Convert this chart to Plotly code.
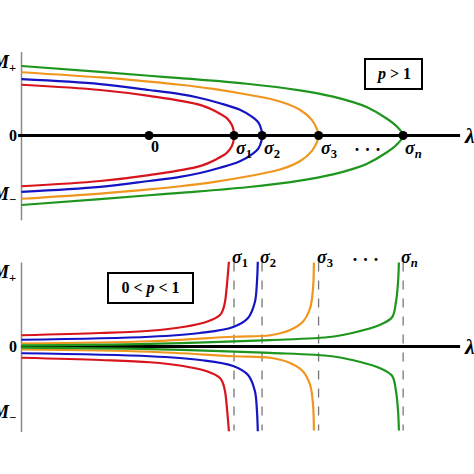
import plotly.graph_objects as go

# bifurcation points on the lambda axis
SIGMA = [2.0, 2.66, 3.99, 5.98]
SIGMA_LABELS = ["σ<sub>1</sub>", "σ<sub>2</sub>", "σ<sub>3</sub>", "σ<sub><i>n</i></sub>"]
COLORS = ["#d8141c", "#1414c4", "#f0961e", "#1e961e"]

# p > 1 : upper branch of each curve (lambda, M), lower branch is its mirror
TOP_LAM = [
    [-3.0, -1.15, 0.0, 1.2, 1.59, 1.83, 1.95, 1.995, 2.0],
    [-3.0, -1.15, 0.0, 0.73, 1.2, 1.67, 2.14, 2.42, 2.58, 2.645, 2.66],
    [-3.0, -1.15, 0.0, 0.73, 1.51, 2.3, 3.08, 3.55, 3.83, 3.96, 3.99],
    [-3.0, -1.15, 0.0, 0.73, 2.3, 3.55, 4.33, 4.8, 5.12, 5.59, 5.83, 5.98],
]
TOP_M = [
    [0.73, 0.655, 0.57, 0.44, 0.34, 0.25, 0.15, 0.06, 0.0],
    [0.81, 0.74, 0.655, 0.595, 0.54, 0.465, 0.37, 0.27, 0.18, 0.08, 0.0],
    [0.91, 0.835, 0.775, 0.73, 0.67, 0.59, 0.49, 0.37, 0.225, 0.08, 0.0],
    [1.0, 0.915, 0.86, 0.825, 0.745, 0.65, 0.56, 0.48, 0.41, 0.245, 0.13, 0.0],
]

# 0 < p < 1 : upper branch of each curve, lower branch is its mirror
BOT_LAM = [
    [-3.0, -1.15, 0.02, 0.8, 1.36, 1.67, 1.74, 1.79, 1.84, 1.88],
    [-3.0, 0.02, 1.2, 1.98, 2.33, 2.49, 2.54, 2.56],
    [-3.0, 0.02, 1.98, 2.85, 3.32, 3.62, 3.79, 3.86, 3.88],
    [-3.0, 0.02, 2.85, 4.31, 4.78, 5.44, 5.72, 5.81, 5.86, 5.88],
]
BOT_M = [
    [0.15, 0.18, 0.21, 0.26, 0.33, 0.42, 0.49, 0.60, 0.86, 1.13],
    [0.09, 0.13, 0.18, 0.26, 0.38, 0.59, 0.86, 1.13],
    [0.04, 0.07, 0.13, 0.15, 0.22, 0.33, 0.51, 0.78, 1.12],
    [0.015, 0.035, 0.085, 0.13, 0.18, 0.29, 0.39, 0.59, 0.86, 1.12],
]

LAM_MIN, LAM_MAX = -3.0, 7.32
FONT = "Liberation Serif"

fig = go.Figure()

# ---------- top panel (p > 1) ----------
fig.add_trace(go.Scatter(x=[LAM_MIN, LAM_MIN], y=[1.2, -1.22], mode="lines",
                         line=dict(color="#8a8a8a", width=1.5), xaxis="x", yaxis="y"))
fig.add_trace(go.Scatter(x=[LAM_MIN - 0.08, LAM_MAX], y=[0, 0], mode="lines",
                         line=dict(color="black", width=3), xaxis="x", yaxis="y"))
for lam, m, c in zip(TOP_LAM, TOP_M, COLORS):
    xs = lam + lam[-2::-1]
    ys = m + [-v for v in m[-2::-1]]
    fig.add_trace(go.Scatter(x=xs, y=ys, mode="lines", line=dict(color=c, width=2.2, shape="spline"),
                             xaxis="x", yaxis="y"))
fig.add_trace(go.Scatter(x=[0] + SIGMA, y=[0] * 5, mode="markers",
                         marker=dict(color="black", size=9), xaxis="x", yaxis="y"))

# ---------- bottom panel (0 < p < 1) ----------
fig.add_trace(go.Scatter(x=[LAM_MIN, LAM_MIN], y=[1.12, -1.14], mode="lines",
                         line=dict(color="#8a8a8a", width=1.5), xaxis="x2", yaxis="y2"))
fig.add_trace(go.Scatter(x=[LAM_MIN, LAM_MAX], y=[0, 0], mode="lines",
                         line=dict(color="black", width=3), xaxis="x2", yaxis="y2"))
for s in SIGMA:
    fig.add_trace(go.Scatter(x=[s, s], y=[1.12, -1.12], mode="lines",
                             line=dict(color="#777777", width=1.3, dash="dash"), xaxis="x2", yaxis="y2"))
for lam, m, c in zip(BOT_LAM, BOT_M, COLORS):
    xs = lam + [None] + lam
    ys = m + [None] + [-v for v in m]
    fig.add_trace(go.Scatter(x=xs, y=ys, mode="lines", line=dict(color=c, width=2.2, shape="spline"),
                             connectgaps=False, xaxis="x2", yaxis="y2"))

ann = []
lab = dict(family=FONT, size=18, color="black")
# sigma labels
for s, t in zip(SIGMA, SIGMA_LABELS):
    txt = "<b><i>" + t.replace("<sub>", "</i><sub>", 1) + "</b>"
    ann.append(dict(x=s, y=0, xref="x", yref="y", text=txt,
                    showarrow=False, xanchor="left", yanchor="top", xshift=0, yshift=0, font=lab))
    ann.append(dict(x=s, y=1.13, xref="x2", yref="y2", text=txt,
                    showarrow=False, xanchor="center", yanchor="middle", xshift=6, yshift=3, font=lab))
ann.append(dict(x=0, y=0, xref="x", yref="y", text="<b>0</b>", showarrow=False,
                xanchor="left", yanchor="top", xshift=0, yshift=0,
                font=dict(family=FONT, size=16, color="black")))
ann.append(dict(x=5.15, y=0, xref="x", yref="y", text="<b>· · ·</b>", showarrow=False,
                xanchor="center", yanchor="top", yshift=-2, font=lab))
ann.append(dict(x=5.1, y=1.13, xref="x2", yref="y2", text="<b>· · ·</b>", showarrow=False,
                xanchor="center", yanchor="middle", yshift=2, font=lab))
for ax, ay in (("x", "y"), ("x2", "y2")):
    ann.append(dict(x=LAM_MAX, y=0, xref=ax, yref=ay, text="<b><i>λ</i></b>", showarrow=False,
                    xanchor="left", yanchor="middle", xshift=2, font=dict(family=FONT, size=22, color="black")))
    ann.append(dict(x=LAM_MIN, y=0, xref=ax, yref=ay, text="<b>0</b>", showarrow=False,
                    xanchor="right", yanchor="middle", xshift=-3, font=dict(family=FONT, size=16, color="black")))

# M+ / M- labels (clipped at the left edge as in the source)
for py, t in ((63, "<b><i>M</i><sub>+</sub></b>"), (195, "<b><i>M</i><sub>−</sub></b>"),
              (273, "<b><i>M</i><sub>+</sub></b>"), (413, "<b><i>M</i><sub>−</sub></b>")):
    ann.append(dict(x=18 / 474, y=1 - py / 474, xref="paper", yref="paper", text=t, showarrow=False,
                    xanchor="right", yanchor="middle", font=dict(family=FONT, size=18, color="black")))

# regime boxes
box_font = dict(family=FONT, size=16, color="black")
ann.append(dict(x=393 / 474, y=1 - 74 / 474, xref="paper", yref="paper", text="<b><i>p</i> > 1</b>",
                showarrow=False, xanchor="center", yanchor="middle", width=47, height=20,
                bordercolor="black", borderwidth=2, borderpad=4, font=box_font))
ann.append(dict(x=150 / 474, y=1 - 288 / 474, xref="paper", yref="paper", text="<b>0 < <i>p</i> < 1</b>",
                showarrow=False, xanchor="center", yanchor="middle", width=75, height=20,
                bordercolor="black", borderwidth=2, borderpad=4, font=box_font))

hidden = dict(visible=False, showgrid=False, zeroline=False)
fig.update_layout(
    width=474, height=474, margin=dict(l=0, r=0, t=0, b=0),
    paper_bgcolor="white", plot_bgcolor="white", showlegend=False,
    xaxis=dict(hidden, range=[-3.506, 7.647], domain=[0, 1], anchor="y"),
    yaxis=dict(hidden, range=[-1.4604, 1.9496], domain=[0.5, 1], anchor="x"),
    xaxis2=dict(hidden, range=[-3.506, 7.647], domain=[0, 1], anchor="y2"),
    yaxis2=dict(hidden, range=[-1.70, 1.46], domain=[0, 0.5], anchor="x2"),
    annotations=ann,
)

fig.write_html("out.html", config={"displayModeBar": False},
               post_script="document.body.style.margin='0';")
